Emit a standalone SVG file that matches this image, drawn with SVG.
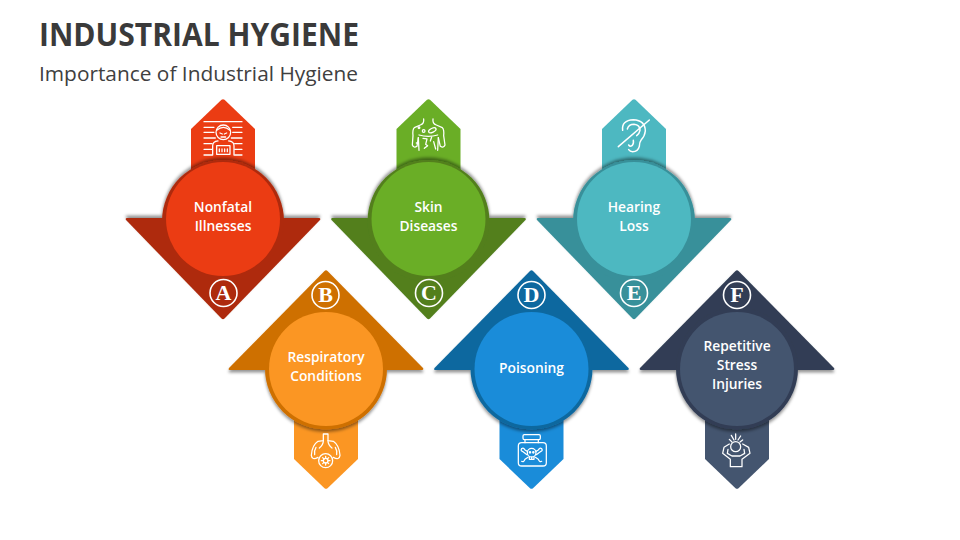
<svg xmlns="http://www.w3.org/2000/svg" width="960" height="540" viewBox="0 0 960 540">
<style>
text{font-family:"Open Sans","Noto Sans","Liberation Sans",sans-serif}
.title{font-size:32px;font-weight:700;fill:#3a3a3a}
.sub{font-size:20px;fill:#404040}
.lab{font-size:13.800px;font-weight:600;fill:#fff;text-anchor:middle}
.let{font-family:"Liberation Serif","DejaVu Serif",serif;font-size:22px;font-weight:700;fill:#fff;text-anchor:middle}
.ring{fill:none;stroke:#fff;stroke-width:1.600}
.ic{fill:none;stroke:#fff;stroke-width:3.800;stroke-linecap:round;stroke-linejoin:round}
.su{filter:url(#shUp)}
.sd{filter:url(#shDown)}
</style>
<defs>
<filter id="shUp" x="-15%" y="-15%" width="130%" height="130%"><feDropShadow dx="0" dy="-2.500" stdDeviation="1.400" flood-color="#000" flood-opacity=".42"/></filter>
<filter id="shDown" x="-15%" y="-15%" width="130%" height="130%"><feDropShadow dx="0" dy="2.500" stdDeviation="1.400" flood-color="#000" flood-opacity=".42"/></filter>
<path id="pentUp" d="M-32 175V129L-1.500 99.800Q0 98.500 1.500 99.800L32 129V175Z"/>
<path id="pentDown" d="M-32 415V459L-1.500 488.200Q0 489.500 1.500 488.200L32 459V415Z"/>
</defs>

<text class="title" x="39" y="46" textLength="320" lengthAdjust="spacingAndGlyphs">INDUSTRIAL HYGIENE</text>
<text class="sub" x="39" y="81" textLength="319" lengthAdjust="spacingAndGlyphs">Importance of Industrial Hygiene</text>

<g id="node-a">
<use href="#pentUp" x="223" fill="#EB3C13"/>
<g class="su" fill="#AE2C0E"><path d="M127 218H319Q321 218 320 220L224.500 318.500Q223 320 221.500 318.500L126 220Q125 218 127 218Z"/><circle cx="223" cy="221" r="61"/></g>
<circle cx="223" cy="219" r="57" fill="#EB3C13"/>
<text class="lab" x="223" y="212">Nonfatal</text><text class="lab" x="223" y="231">Illnesses</text>
<circle class="ring" cx="223.500" cy="293" r="13.500"/><text class="let" x="223.500" y="300">A</text>
<g class="ic" transform="translate(190 95) scale(.3333)">
<path d="M42 80H156M42 97H72M128 97H156M42 112H72M128 112H156M42 129H76M124 129H156M42 146H66M134 146H156M42 163H66M134 163H156M42 180H66M134 180H156"/>
<circle cx="100" cy="112" r="22"/><path d="M80 106Q100 88 120 106M90 114L97 117M110 114L103 117M93 126H107"/>
<path d="M68 180V152Q68 140 84 138M132 180V152Q132 140 116 138"/>
<rect x="80" y="152" width="40" height="26"/><path d="M88 162V170M96 162V170M104 162V170M112 162V170"/>
</g>
</g>

<g id="node-c">
<use href="#pentUp" x="428.500" fill="#6AAE26"/>
<g class="su" fill="#527F1F"><path d="M332.500 218H524.500Q526.500 218 525.500 220L430 318.500Q428.500 320 427 318.500L331.500 220Q330.500 218 332.500 218Z"/><circle cx="428.500" cy="221" r="61"/></g>
<circle cx="428.500" cy="219" r="57" fill="#6AAE26"/>
<text class="lab" x="428.500" y="212">Skin</text><text class="lab" x="428.500" y="231">Diseases</text>
<circle class="ring" cx="429" cy="293" r="13.500"/><text class="let" x="429" y="300">C</text>
<g class="ic" transform="translate(395 95) scale(.3333)">
<path d="M86 72Q88 86 76 90L58 98Q52 104 54 122L52 150Q56 160 66 154L70 128M114 72Q112 86 124 90L142 98Q148 104 146 122L150 150Q146 160 136 154L130 128"/>
<path d="M70 128L72 166M130 128L128 166M72 120Q100 128 128 120"/>
<ellipse cx="112" cy="106" rx="12" ry="6" transform="rotate(-25 112 106)"/><circle cx="86" cy="108" r="4"/><circle cx="72" cy="98" r="2.500"/>
<path d="M84 130L96 132L92 148L98 152L88 160M110 126L106 138M116 140L122 162M64 144H70"/>
</g>
</g>

<g id="node-e">
<use href="#pentUp" x="634" fill="#4DB8C1"/>
<g class="su" fill="#38909A"><path d="M538 218H730Q732 218 731 220L635.500 318.500Q634 320 632.500 318.500L537 220Q536 218 538 218Z"/><circle cx="634" cy="221" r="61"/></g>
<circle cx="634" cy="219" r="57" fill="#4DB8C1"/>
<text class="lab" x="634" y="212">Hearing</text><text class="lab" x="634" y="231">Loss</text>
<circle class="ring" cx="634" cy="293" r="13.500"/><text class="let" x="634" y="300">E</text>
<g class="ic" transform="translate(600 95) scale(.3333)" style="stroke-width:4.500">
<path d="M68 106Q64 76 100 74Q136 76 136 108Q134 124 124 134Q118 142 118 154Q114 170 98 170Q90 170 86 164"/>
<path d="M82 102Q86 88 102 88Q120 90 120 106Q118 116 110 122M100 136Q102 146 96 152Q90 156 86 150"/>
<path d="M55 155L148 75"/>
</g>
</g>

<g id="node-b">
<use href="#pentDown" x="326" fill="#FB9623"/>
<g class="sd" fill="#CE7006"><path d="M229.500 370H422Q424 370 423 368L327.500 271Q326 269.500 324.500 271L229 368Q228 370 229.500 370Z"/><circle cx="326" cy="368.500" r="61"/></g>
<circle cx="326" cy="369" r="57" fill="#FB9623"/>
<text class="lab" x="326" y="362">Respiratory</text><text class="lab" x="326" y="381">Conditions</text>
<circle class="ring" cx="325.500" cy="295" r="13.500"/><text class="let" x="325.500" y="302">B</text>
<g class="ic" transform="translate(290 420) scale(.3333)">
<path d="M100 42H114M100 42V62L84 64Q66 76 64 106Q66 122 84 112M114 42V62L130 64Q148 76 150 106Q148 122 130 112"/>
<path d="M100 62Q100 74 88 84M114 62Q114 74 126 84M78 82Q72 92 74 104M136 82Q142 92 140 104"/>
<circle cx="107" cy="122" r="21"/><circle cx="107" cy="122" r="7"/><path d="M107 109V115M107 129V135M94 122H100M114 122H120M98 113L102 117M112 127L116 131M116 113L112 117M102 127L98 131"/>
</g>
</g>

<g id="node-d">
<use href="#pentDown" x="531.500" fill="#1A8CD9"/>
<g class="sd" fill="#11689F"><path d="M435 370H627.500Q629.500 370 628.500 368L533 271Q531.500 269.500 530 271L434.500 368Q433.500 370 435 370Z"/><circle cx="531.500" cy="368.500" r="61"/></g>
<circle cx="531.500" cy="369" r="57" fill="#1A8CD9"/>
<text class="lab" x="531.500" y="373">Poisoning</text>
<circle class="ring" cx="531.500" cy="295" r="13.500"/><text class="let" x="531.500" y="302">D</text>
<g class="ic" transform="translate(497 420) scale(.3333)">
<rect x="78" y="44" width="52" height="15" rx="4"/><path d="M84 59V68M124 59V68"/>
<rect x="64" y="68" width="84" height="70" rx="10"/>
<circle cx="104" cy="98" r="13"/><path d="M97 110V118H111V110M104 112V118"/><circle cx="99" cy="97" r="2"/><circle cx="109" cy="97" r="2"/>
<path d="M74 86Q80 82 84 90L91 94M134 86Q128 82 124 90L117 94M74 124Q80 128 84 118L93 112M134 124Q128 128 124 118L115 112M74 86Q70 92 76 94L90 104M134 86Q138 92 132 94L118 104"/>
</g>
</g>

<g id="node-f">
<use href="#pentDown" x="737" fill="#44556F"/>
<g class="sd" fill="#323E54"><path d="M641 370H833Q835 370 834 368L738.500 271Q737 269.500 735.500 271L640 368Q639 370 641 370Z"/><circle cx="737" cy="368.500" r="61"/></g>
<circle cx="737" cy="369" r="57" fill="#44556F"/>
<text class="lab" x="737" y="351">Repetitive</text><text class="lab" x="737" y="370">Stress</text><text class="lab" x="737" y="389">Injuries</text>
<circle class="ring" cx="737" cy="295" r="13.500"/><text class="let" x="737" y="302">F</text>
<g class="ic" transform="translate(702 420) scale(.3333)">
<circle cx="101" cy="80" r="15"/>
<path d="M88 46L96 60M101 42V58M116 48L108 60M82 58L90 66M122 60L114 66"/>
<path d="M82 72L66 82L62 100L85 118V140H120V118L144 100L140 82L122 72M78 88L76 100L90 108H114L128 100L126 88"/>
</g>
</g>
</svg>
